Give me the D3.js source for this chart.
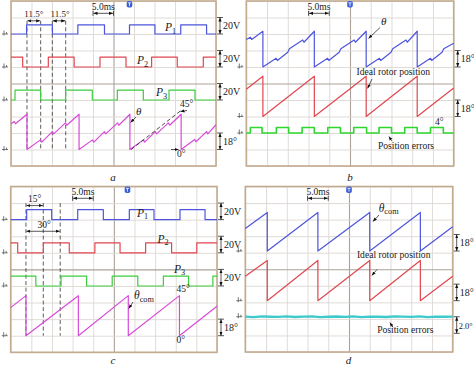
<!DOCTYPE html>
<html><head><meta charset="utf-8">
<script src="https://cdn.jsdelivr.net/npm/d3@7"></script>
<style>
body{margin:0;background:#fff}
svg{display:block}
text{font-family:"Liberation Serif","Times New Roman",serif;fill:#1a1a1a}
</style>
</head><body><svg id="c" width="474" height="366"></svg>
<script>
// ================= DATA =================
const timeDomain = [0, 50];            // ms (10 div x 5.0 ms)
const timeTicks = d3.range(0, 51, 5);  // grid divisions
const divTicks = d3.range(0, 11, 1);

// ---- panel a : Hall signals (V) and estimated theta (deg) ----
const aP1Edges = [3.8, 10.1, 16.3, 22.8, 28.9, 35.1, 41.4, 47.7];
const aP2Edges = [2.85, 9.1, 15.4, 21.7, 28.05, 34.3, 40.55, 46.9];
const aP3Edges = [0.98, 7.24, 13.34, 19.83, 25.93, 32.27, 38.54, 44.88];
const aHallStart = [0, 1, 0];
const aHallHigh = [11, 12, 12];
const aTheta = [
  [0,28],[0.8,30.5],[1.1,28],[3.9,38.5],[3.9,0],
  [7.2,10.5],[7.5,8],[10.1,19.5],[10.4,17],[13.3,29],[13.6,26.5],[16.6,38.5],[16.6,0],
  [19.9,10.5],[20.2,8],[22.8,19.5],[23.1,17],[26.0,29],[26.3,26.5],[29.0,38.5],[29.0,0],
  [32.3,10.5],[32.6,8],[35.2,19.5],[35.5,17],[38.4,29],[38.7,26.5],[41.5,38.5],[41.5,0],
  [44.8,11],[45.1,8.5],[47.7,19.5],[48.0,17],[50,27]
];
const aIdeal = [[29.3,0],[41.3,42]];
const aDash = [3.9, 7.24, 10.07, 13.34];

// ---- panel b : theta, ideal rotor position, position error (deg) ----
const bTheta = [
  [0,30],[1.0,32.5],[1.3,30],[4.0,39],[4.0,0],
  [7.2,9.5],[7.5,7],[10.0,16],[10.4,20],[13.6,29.5],[13.9,27],[16.4,39],[16.4,0],
  [19.6,9.5],[19.9,7],[22.4,16],[22.8,20],[26.0,29.5],[26.3,27],[28.9,39],[28.9,0],
  [32.1,9.5],[32.4,7],[34.9,16],[35.3,20],[38.5,29.5],[38.8,27],[41.2,39],[41.2,0],
  [44.4,9.5],[44.7,7],[47.2,16],[47.6,20],[50,26]
];
const bIdeal = [[0,29.7],[4.0,44],[4.0,0],[16.4,44],[16.4,0],[28.9,44],[28.9,0],[41.2,44],[41.2,0],[50,31]];
const bErrEdges = [0.97,3.8,7.25,10.2,13.45,16.4,19.65,22.7,25.9,29.0,32.0,35.0,38.2,41.2,44.4,47.5];
const bErrHigh = 4;

// ---- panel c : Hall signals (V) and compensated theta (deg) ----
const cP1Edges = [3.87, 9.94, 16.24, 22.45, 28.75, 34.73, 41.03, 47.1];
const cP2Edges = [1.7, 7.9, 14.2, 20.4, 26.5, 32.7, 39.0, 45.1];
const cP3Edges = [6.1, 12.2, 18.4, 24.6, 30.8, 37.0, 43.1, 49.0];
const cHallStart = [0, 1, 1];
const cHallHigh = [12, 12, 12];
const cTheta = [[0,30.5],[3.7,43.5],[3.7,0],[16.4,43.5],[16.4,0],[28.5,43.5],[28.5,0],[40.9,43.5],[40.9,0],[50,32]];
const cDash = [3.7, 7.9, 12.0];

// ---- panel d : compensated theta, ideal position, position error (deg) ----
const dTheta = [[0,24.5],[5.3,42],[5.3,0],[17.5,42],[17.5,0],[30.0,42],[30.0,0],[42.2,42],[42.2,0],[50,26.5]];
const dIdeal = [[0,26.5],[5.3,43.8],[5.3,0],[17.5,43.8],[17.5,0],[30.0,43.8],[30.0,0],[42.2,43.8],[42.2,0],[50,26.5]];
const dErrTimes = d3.range(0, 51, 2);
const dErrValues = [0.02,-0.04,0.04,0,-0.02,0.05,-0.03,0.02,0.04,-0.04,0,0.03,-0.02,0.04,-0.04,0.02,0,-0.03,0.04,0.02,-0.02,0.04,-0.04,0.02,0,0.02];

// ================= HELPERS =================
function stepPts(start, edges, high){
  let s = start; const pts = [[timeDomain[0], s*high]];
  edges.forEach(e => { pts.push([e, s*high]); s = 1 - s; pts.push([e, s*high]); });
  pts.push([timeDomain[1], s*high]);
  return pts;
}

const svg = d3.select('#c');
const defs = svg.append('defs');
defs.append('marker').attr('id','ah').attr('viewBox','0 0 10 10').attr('refX',10).attr('refY',5)
  .attr('markerUnits','userSpaceOnUse').attr('markerWidth',4).attr('markerHeight',4)
  .attr('orient','auto-start-reverse').append('path').attr('d','M0,1L10,5L0,9z').attr('fill','#111');

const C = {
  blue:'#4d55dc', red:'#e0474f', green:'#3ccd3c', mag:'#d84bd8',
  gridLine:'#dcd7d2', center:'#aaa29a', frame:'#c3ab90', cyan:'#3ec9cc', lgreen:'#2fd62f'
};

function txt(g, x, y, s, o={}){
  const t = g.append('text').attr('x',x).attr('y',y).attr('font-size',o.size||9.5)
    .attr('text-anchor',o.anchor||'start');
  if (o.italic) t.attr('font-style','italic');
  t.text(s);
  return t;
}
function sub(g, x, y, main, subs, o={}){
  const fs = o.size||11.5;
  const t = g.append('text').attr('x',x).attr('y',y).attr('font-size',fs).attr('text-anchor',o.anchor||'start');
  t.append('tspan').attr('font-style','italic').text(main);
  t.append('tspan').attr('font-size',fs*0.72).attr('dy',2.5).text(subs);
  return t;
}
function arrow(g, x1,y1,x2,y2, both){
  const l = g.append('line').attr('x1',x1).attr('y1',y1).attr('x2',x2).attr('y2',y2)
    .attr('stroke','#111').attr('stroke-width',0.7).attr('marker-end','url(#ah)');
  if (both) l.attr('marker-start','url(#ah)');
  return l;
}

function drawPanel(p){
  const g = svg.append('g');
  const x = d3.scaleLinear().domain(timeDomain).range([p.x0, p.x1]);
  const y = d3.scaleLinear().domain([0,10]).range([p.y1, p.y0]);
  const W = p.x1 - p.x0, H = p.y1 - p.y0;

  const gx = g.append('g').attr('transform',`translate(0,${p.y1})`)
    .call(d3.axisBottom(x).tickValues(timeTicks).tickSize(-H).tickFormat(''));
  const gy = g.append('g').attr('transform',`translate(${p.x0},0)`)
    .call(d3.axisLeft(y).tickValues(divTicks).tickSize(-W).tickFormat(''));
  [gx, gy].forEach(a => {
    a.select('.domain').remove();
    a.selectAll('.tick line').attr('stroke', C.gridLine).attr('stroke-width', 0.9);
  });
  gx.selectAll('.tick').filter(d => d === 25).select('line').attr('stroke', C.center).attr('stroke-width', 1.1);
  gy.selectAll('.tick').filter(d => d === 5).select('line').attr('stroke', C.center).attr('stroke-width', 1.1);
  g.append('rect').attr('x',p.x0).attr('y',p.y0).attr('width',W).attr('height',H)
    .attr('fill','none').attr('stroke',C.frame).attr('stroke-width',1.6);

  (p.dashes||[]).forEach(d => {
    g.append('line').attr('x1',x(d.t)).attr('x2',x(d.t)).attr('y1',y(d.top)).attr('y2',y(d.bot))
      .attr('stroke','#333').attr('stroke-width',0.8).attr('stroke-dasharray','4,2.5');
  });

  p.traces.forEach(tr => {
    const line = d3.line().x(d => x(d[0])).y(d => y(tr.ground + d[1]/tr.perDiv));
    g.append('path').datum(tr.pts).attr('d', line).attr('fill','none')
      .attr('stroke', tr.color).attr('stroke-width', tr.width||1.2)
      .attr('stroke-dasharray', tr.dash||null).attr('stroke-linejoin','round');
    const gy0 = y(tr.ground);
    if (tr.marker !== false){
      g.append('path').attr('stroke','#555').attr('stroke-width',0.8).attr('fill','none')
        .attr('d',`M${p.x0-9},${gy0}H${p.x0-3}M${p.x0-7},${gy0-3.5}V${gy0+1.5}M${p.x0-4.5},${gy0-2}V${gy0}`);
    }
  });

  (p.brackets||[]).forEach(b => {
    const ya = y(b.ground), yb = y(b.ground + (b.dir||1));
    const bx = p.x1 + 4;
    const bg = g.append('g').attr('stroke','#111').attr('stroke-width',0.7);
    bg.append('line').attr('x1',p.x1+1).attr('x2',p.x1+7).attr('y1',ya).attr('y2',ya);
    bg.append('line').attr('x1',p.x1+1).attr('x2',p.x1+7).attr('y1',yb).attr('y2',yb);
    arrow(g, bx, (ya+yb)/2, bx, ya, false);
    arrow(g, bx, (ya+yb)/2, bx, yb, false);
    txt(g, p.x1 + (b.dx||7), (ya+yb)/2 + 3.5, b.label, {size:b.size||10});
  });

  const t0 = p.msMark, ym = p.msY;
  g.append('line').attr('x1',x(t0)).attr('x2',x(t0)).attr('y1',ym-2.5).attr('y2',ym+2.5).attr('stroke','#111').attr('stroke-width',0.7);
  g.append('line').attr('x1',x(t0+5)).attr('x2',x(t0+5)).attr('y1',ym-2.5).attr('y2',ym+2.5).attr('stroke','#111').attr('stroke-width',0.7);
  arrow(g, x(t0)+0.5, ym, x(t0+5)-0.5, ym, true);
  txt(g, x(t0+2.5), ym-3.5, '5.0ms', {size:9.5, anchor:'middle'});

  const tm = g.append('g').attr('transform',`translate(${x(p.trig)},${p.y0+3})`);
  tm.append('rect').attr('x',-2.8).attr('y',-3).attr('width',5.6).attr('height',6.5).attr('rx',1.8).attr('fill','#3d5fd6');
  tm.append('path').attr('d','M-1.6,-1.2H1.6M0,-1.2V2.2').attr('stroke','#fff').attr('stroke-width',0.8);

  txt(g, p.lx, p.ly, p.name, {size:11, italic:true, anchor:'middle'});
  return {g, x, y};
}

// ================= PANEL A =================
const A = drawPanel({
  name:'a', x0:11, x1:216, y0:1, y1:166, lx:113, ly:181, msMark:20, msY:13.3, trig:28.9,
  dashes: aDash.map(t => ({t, top:8.8, bot:1})),
  traces:[
    {pts: stepPts(aHallStart[0], aP1Edges, aHallHigh[0]), ground:8, perDiv:20, color:C.blue},
    {pts: stepPts(aHallStart[1], aP2Edges, aHallHigh[1]), ground:6, perDiv:20, color:C.red},
    {pts: stepPts(aHallStart[2], aP3Edges, aHallHigh[2]), ground:4, perDiv:20, color:C.green},
    {pts: aTheta, ground:1, perDiv:18, color:C.mag},
    {pts: aIdeal, ground:1, perDiv:18, color:'#222', width:0.8, dash:'4,2.5', marker:false}
  ],
  brackets:[{ground:8,label:'20V'},{ground:6,label:'20V'},{ground:4,label:'20V'},{ground:1,label:'18°'}]
});
{
  const {g, x, y} = A; const ya = y(8.8);
  arrow(g, x(aDash[0])+0.5, ya, x(aDash[1])-0.5, ya, true);
  arrow(g, x(aDash[2])+0.5, ya, x(aDash[3])-0.5, ya, true);
  txt(g, (x(aDash[0])+x(aDash[1]))/2, ya-3.5, '11.5°', {size:9, anchor:'middle'});
  txt(g, (x(aDash[2])+x(aDash[3]))/2 + 1, ya-3.5, '11.5°', {size:9, anchor:'middle'});
  sub(g, 165, 31, 'P', '1');
  sub(g, 137, 64, 'P', '2');
  sub(g, 156, 96, 'P', '3');
  txt(g, 136, 115, 'θ', {size:11, italic:true});
  arrow(g, 136, 117, 130.5, 122.5);
  txt(g, 180, 107, '45°', {size:9.5});
  arrow(g, 187, 110.5, 180.5, 111.5);
  txt(g, 177, 157, '0°', {size:9.5});
  arrow(g, 171, 149.5, 178.5, 149.5);
}

// ================= PANEL B =================
const B = drawPanel({
  name:'b', x0:246.3, x1:453.7, y0:1, y1:166, lx:350, ly:181, msMark:15, msY:13.3, trig:25,
  traces:[
    {pts: bTheta, ground:6, perDiv:18, color:C.blue},
    {pts: bIdeal, ground:3, perDiv:18, color:C.red},
    {pts: stepPts(0, bErrEdges, bErrHigh), ground:2, perDiv:12, color:C.lgreen, width:1.6}
  ],
  brackets:[{ground:6,label:'18°'},{ground:3,label:'18°'}]
});
{
  const {g} = B;
  txt(g, 381, 25, 'θ', {size:11, italic:true});
  arrow(g, 380, 27.5, 368.5, 38.5);
  txt(g, 393.3, 75, 'Ideal rotor position', {size:9.6, anchor:'middle'});
  arrow(g, 372, 79, 367.5, 88.5);
  txt(g, 406, 149.3, 'Position errors', {size:9.6, anchor:'middle'});
  arrow(g, 392, 141, 388.8, 136.5);
  txt(g, 435, 125, '4°', {size:9.5});
}

// ================= PANEL C =================
const Cp = drawPanel({
  name:'c', x0:10.7, x1:217, y0:186.5, y1:352.3, lx:113, ly:364, msMark:15, msY:198.3, trig:28.3,
  dashes: cDash.map(t => ({t, top:9, bot:1})),
  traces:[
    {pts: stepPts(cHallStart[0], cP1Edges, cHallHigh[0]), ground:8, perDiv:20, color:C.blue},
    {pts: stepPts(cHallStart[1], cP2Edges, cHallHigh[1]), ground:6, perDiv:20, color:C.red},
    {pts: stepPts(cHallStart[2], cP3Edges, cHallHigh[2]), ground:4, perDiv:20, color:C.green},
    {pts: cTheta, ground:1, perDiv:18, color:C.mag}
  ],
  brackets:[{ground:8,label:'20V'},{ground:6,label:'20V'},{ground:4,label:'20V'},{ground:1,label:'18°'}]
});
{
  const {g, x, y} = Cp;
  const y15 = y(8.85), y30 = y(7.3);
  arrow(g, x(cDash[0])+0.5, y15, x(cDash[1])-0.5, y15, true);
  txt(g, (x(cDash[0])+x(cDash[1]))/2, y15-3.5, '15°', {size:9.5, anchor:'middle'});
  arrow(g, x(cDash[0])+0.5, y30, x(cDash[2])-0.5, y30, true);
  txt(g, (x(cDash[0])+x(cDash[2]))/2 + 1, y30-3.5, '30°', {size:9.5, anchor:'middle'});
  sub(g, 137, 216.7, 'P', '1');
  sub(g, 157.5, 242.7, 'P', '2');
  sub(g, 174, 272.7, 'P', '3');
  sub(g, 134, 299.3, 'θ', 'com');
  arrow(g, 133, 302, 128.8, 308.5);
  txt(g, 176.5, 291.7, '45°', {size:9.5});
  txt(g, 176.5, 343.3, '0°', {size:9.5});
}

// ================= PANEL D =================
const D = drawPanel({
  name:'d', x0:245.3, x1:452.7, y0:186.5, y1:352, lx:348.5, ly:364, msMark:15, msY:198.3, trig:25,
  traces:[
    {pts: dTheta, ground:6.1, perDiv:18, color:C.blue},
    {pts: dIdeal, ground:3.1, perDiv:18, color:C.red},
    {pts: dErrTimes.map((t,i) => [t, dErrValues[i]]), ground:2.13, perDiv:2, color:C.cyan, width:2.4}
  ],
  brackets:[{ground:6.1,label:'18°'},{ground:3.1,label:'18°'},{ground:2.13,label:'2.0°',dir:-1,dx:6,size:8.5}]
});
{
  const {g} = D;
  sub(g, 378.7, 211.7, 'θ', 'com');
  arrow(g, 379, 215, 373, 221.5);
  txt(g, 393.7, 258.3, 'Ideal rotor position', {size:9.6, anchor:'middle'});
  arrow(g, 377, 269.5, 371.8, 275.5);
  txt(g, 405.3, 333.3, 'Position errors', {size:9.6, anchor:'middle'});
  arrow(g, 393, 327.3, 389.8, 322.5);
}
</script>
</body></html>
